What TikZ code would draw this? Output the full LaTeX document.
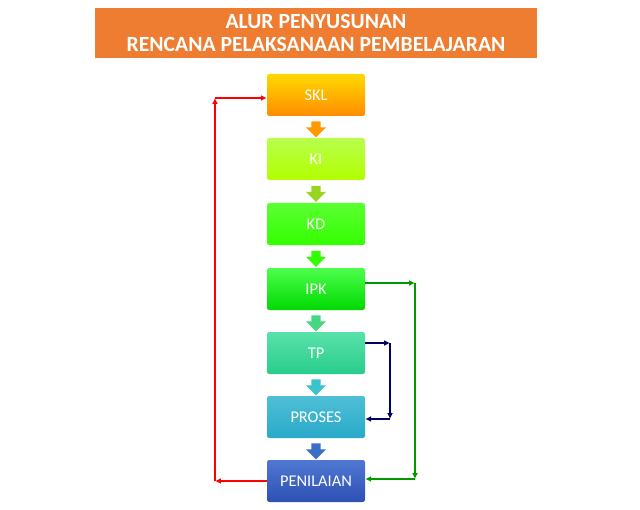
\documentclass[tikz,border=0pt]{standalone}
\usepackage{fontspec}
\setmainfont{Carlito}
\usetikzlibrary{arrows.meta,shapes.arrows,calc}
\definecolor{TitleOrange}{HTML}{EE7D31}
\tikzset{
    >=Latex,
    stepbox/.style={rectangle,rounded corners=2pt,minimum width=98*0.03cm,minimum height=42*0.03cm,
        text=white,font=\fontsize{14}{16}\selectfont},
    flow/.style={single arrow,draw=none,minimum height=16*0.03cm,minimum width=20*0.03cm,
        single arrow head extend=3pt,inner sep=2.5pt,shape border rotate=270},
    loop/.style={->,line width=1pt,>={Latex[length=5pt,width=5pt]}}
}
\begin{document}
\begin{tikzpicture}[x=0.03cm,y=-0.03cm]
    \useasboundingbox (0,0) rectangle (640,510);
    % Title
    \node[fill=TitleOrange,minimum width=442*0.03cm,minimum height=50*0.03cm,align=center,
        text=white,font=\bfseries\fontsize{18.5}{20}\selectfont,inner sep=0pt] (title) at (316,33)
        {ALUR PENYUSUNAN\\RENCANA PELAKSANAAN PEMBELAJARAN};

    % Steps
    \node[stepbox,top color=yellow!70!orange,bottom color=orange!90!yellow] (SKL) at (316,95) {SKL};
    \node[stepbox,top color=yellow!60!green!70,bottom color=yellow!70!green] (KI) at (316,159) {KI};
    \node[stepbox,top color=green!80!yellow!80,bottom color=green!80!yellow] (KD) at (316,224) {KD};
    \node[stepbox,top color=green!70,bottom color=green!85!black] (IPK) at (316,289) {IPK};
    \node[stepbox,top color={rgb,255:red,90;green,225;blue,170},bottom color={rgb,255:red,40;green,205;blue,140}] (TP) at (316,353) {TP};
    \node[stepbox,top color={rgb,255:red,80;green,190;blue,215},bottom color={rgb,255:red,40;green,170;blue,200}] (PROSES) at (316,417) {PROSES};
    \node[stepbox,top color={rgb,255:red,80;green,120;blue,210},bottom color={rgb,255:red,45;green,80;blue,180}] (PENILAIAN) at (316,481) {PENILAIAN};

    % Block arrows
    \node[flow,fill=orange!80!yellow] at ($(SKL.south)!.5!(KI.north)$) {};
    \node[flow,fill=yellow!60!green] at ($(KI.south)!.5!(KD.north)$) {};
    \node[flow,fill=green!80!yellow] at ($(KD.south)!.5!(IPK.north)$) {};
    \node[flow,fill={rgb,255:red,70;green,215;blue,130}] at ($(IPK.south)!.5!(TP.north)$) {};
    \node[flow,fill={rgb,255:red,60;green,195;blue,205}] at ($(TP.south)!.5!(PROSES.north)$) {};
    \node[flow,fill={rgb,255:red,60;green,110;blue,200}] at ($(PROSES.south)!.5!(PENILAIAN.north)$) {};

    % Feedback lines
    \coordinate (r1) at (215,481);
    \coordinate (r2) at (215,98);
    \draw[loop,red] (PENILAIAN.west) -- (r1);
    \draw[loop,red] (r1) -- (r2);
    \draw[loop,red] (r2) -- (SKL.west |- r2);

    \coordinate (g1) at (415,283);
    \coordinate (g2) at (415,479);
    \draw[loop,green!60!black] (IPK.east |- g1) -- (g1);
    \draw[loop,green!60!black] (g1) -- (g2);
    \draw[loop,green!60!black] (g2) -- (PENILAIAN.east |- g2);

    \coordinate (b1) at (390,343);
    \coordinate (b2) at (390,419);
    \draw[loop,blue!40!black] (TP.east |- b1) -- (b1);
    \draw[loop,blue!40!black] (b1) -- (b2);
    \draw[loop,blue!40!black] (b2) -- (PROSES.east |- b2);
\end{tikzpicture}
\end{document}
